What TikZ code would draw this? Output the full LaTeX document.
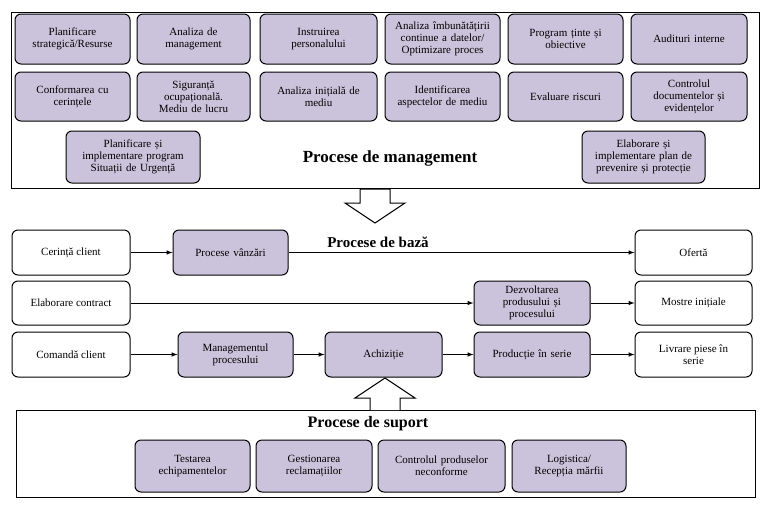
\documentclass[tikz,border=0pt]{standalone}
\usepackage{fontspec}
\setmainfont{Liberation Serif}
\begin{document}
\begin{tikzpicture}[x=1pt,y=-1pt,
 box/.style={draw,line width=1pt,rounded corners=6pt,align=center,font=\fontsize{11}{12}\selectfont,inner sep=1pt},
 lav/.style={box,fill=lavfill},
 wht/.style={box,fill=white},
 arr/.style={-latex,line width=1pt},
 bigarr/.style={draw,line width=1pt,fill=white}]
\definecolor{lavfill}{HTML}{CBC3DB}
\useasboundingbox (0,0) rectangle (768,512);
\fill[white] (0,0) rectangle (768,512);
% top frame
\node[draw,line width=1pt,minimum width=748pt,minimum height=176pt,inner sep=0] (mgmt) at (385,100) {};
\newcommand{\tb}[6]{\node[lav,minimum width=#3pt,minimum height=#4pt,text width=#3pt-6pt] (#5) at (#1,#2) {#6};}
\tb{72.5}{39}{115}{50}{m1}{Planificare\\strategică/Resurse}
\tb{193.5}{39}{113}{50}{m2}{Analiza de\\management}
\tb{318.5}{39}{117}{50}{m3}{Instruirea\\personalului}
\tb{442.5}{39}{115}{50}{m4}{Analiza îmbunătățirii\\continue a datelor/\\Optimizare proces}
\tb{565.5}{39}{115}{50}{m5}{Program ținte și\\obiective}
\tb{689}{39}{116}{50}{m6}{Audituri interne}
\tb{72.5}{96.5}{115}{49}{m7}{Conformarea cu\\cerințele}
\tb{193.5}{96.5}{113}{49}{m8}{Siguranță\\ocupațională.\\Mediu de lucru}
\tb{318.5}{96.5}{117}{49}{m9}{Analiza inițială de\\mediu}
\tb{442.5}{96.5}{115}{49}{m10}{Identificarea\\aspectelor de mediu}
\tb{565.5}{96.5}{115}{49}{m11}{Evaluare riscuri}
\tb{689}{96.5}{116}{49}{m12}{Controlul\\documentelor și\\evidențelor}
\tb{133}{157}{134}{52}{m13}{Planificare și\\implementare program\\Situații de Urgență}
\tb{643.5}{157}{123}{52}{m14}{Elaborare și\\implementare plan de\\prevenire și protecție}
\node[font=\fontsize{17}{19}\selectfont\bfseries] (tm) at (390,158) {Procese de management};
% down arrow
\coordinate (da) at (375,223);
\draw[bigarr] (360,189) -- (390,189) -- (390,203) -- (405,203) -- (da) -- (345,203) -- (360,203) -- cycle;
% base processes
\node[wht,minimum width=118pt,minimum height=45pt] (c1) at (71,252.5) {Cerință client};
\tb{230.5}{252.5}{115}{45}{pv}{Procese vânzări}
\node[wht,minimum width=117pt,minimum height=45pt] (of) at (693.5,252.5) {Ofertă};
\node[wht,minimum width=118pt,minimum height=44pt] (ec) at (71,303) {Elaborare contract};
\tb{532}{303}{116}{44}{dz}{Dezvoltarea\\produsului și\\procesului}
\node[wht,minimum width=117pt,minimum height=44pt] (mo) at (693.5,303) {Mostre inițiale};
\node[wht,minimum width=118pt,minimum height=45pt] (cc) at (71,354.5) {Comandă client};
\tb{235.5}{354.5}{115}{45}{mp}{Managementul\\procesului}
\tb{383.5}{354.5}{117}{45}{ac}{Achiziție}
\tb{532}{354.5}{116}{45}{pr}{Producție în serie}
\node[wht,minimum width=117pt,minimum height=45pt] (lv) at (693.5,354.5) {Livrare piese în\\serie};
\node[font=\fontsize{15}{17}\selectfont\bfseries] (tb) at (378,242) {Procese de bază};
\draw[arr] (c1) -- (pv);
\draw[arr] (pv) -- (of);
\draw[arr] (ec) -- (dz);
\draw[arr] (dz) -- (mo);
\draw[arr] (cc) -- (mp);
\draw[arr] (mp) -- (ac);
\draw[arr] (ac) -- (pr);
\draw[arr] (pr) -- (lv);
% support frame
\node[draw,line width=1pt,minimum width=739pt,minimum height=87pt,inner sep=0] (sup) at (385.5,453.5) {};
\draw[bigarr] (370,410) -- (370,398) -- (355,398) -- (385,378) -- (415,398) -- (400,398) -- (400,410);
\node[font=\fontsize{16}{18}\selectfont\bfseries] (ts) at (368,424) {Procese de suport};
\tb{192.5}{466}{115}{52}{s1}{Testarea\\echipamentelor}
\tb{314}{466}{116}{52}{s2}{Gestionarea\\reclamațiilor}
\tb{441.5}{466}{127}{52}{s3}{Controlul produselor\\neconforme}
\tb{569}{466}{114}{52}{s4}{Logistica/\\Recepția mărfii}
\end{tikzpicture}
\end{document}
